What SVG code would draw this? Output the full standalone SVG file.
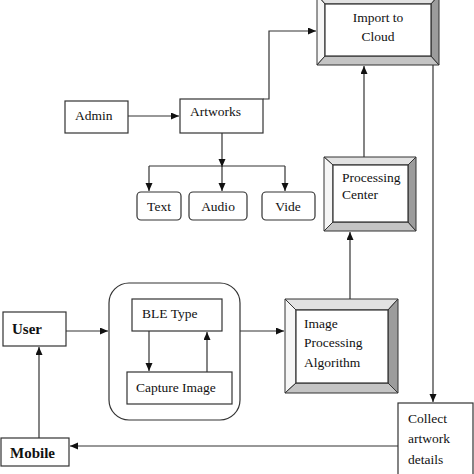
<svg xmlns="http://www.w3.org/2000/svg" width="474" height="474" viewBox="0 0 474 474">
<style>
  .box{fill:#fff;stroke:#333;stroke-width:1.2}
  .t{font-size:13.5px;fill:#111}
  .b{font-size:15px;font-weight:bold;fill:#111}
  .c{fill:none;stroke:#333;stroke-width:1.2}
  .ft{fill:#e2e2e2;stroke:#333;stroke-width:1}
  .fl{fill:#f6f6f6;stroke:#333;stroke-width:1}
  .fb{fill:#c4c4c4;stroke:#333;stroke-width:1}
  .fr{fill:#9c9c9c;stroke:#333;stroke-width:1}
</style>
<defs>
  <marker id="ah" markerUnits="userSpaceOnUse" markerWidth="9" markerHeight="8" refX="8" refY="3.5" orient="auto">
    <path d="M0,0 L8,3.5 L0,7 z" fill="#111"/>
  </marker>
</defs>
<rect width="474" height="474" fill="#fff"/>

<g font-family="'Liberation Serif', 'DejaVu Serif', 'Times New Roman', serif">
<g id="import">
  <polygon class="ft" points="317,-5 439,-5 431,4 325,4"/>
  <polygon class="fl" points="317,-5 325,4 325,56 317,65"/>
  <polygon class="fb" points="317,65 325,56 431,56 439,65"/>
  <polygon class="fr" points="439,-5 439,65 431,56 431,4"/>
  <rect class="box" x="325" y="4" width="106" height="52"/>
  <text class="t" x="378" y="22" text-anchor="middle">Import to</text>
  <text class="t" x="378" y="41" text-anchor="middle">Cloud</text>
</g>

<g id="admin">
  <rect class="box" x="65" y="101" width="63" height="32"/>
  <text class="t" x="75" y="120">Admin</text>
</g>

<g id="artworks">
  <rect class="box" x="180" y="99" width="83" height="34"/>
  <text class="t" x="190" y="116">Artworks</text>
</g>

<g id="text">
  <rect class="box" x="137" y="192" width="44" height="28" rx="4"/>
  <text class="t" x="159" y="211" text-anchor="middle">Text</text>
</g>
<g id="audio">
  <rect class="box" x="189" y="192" width="58" height="28" rx="4"/>
  <text class="t" x="218" y="211" text-anchor="middle">Audio</text>
</g>
<g id="vide">
  <rect class="box" x="262" y="192" width="53" height="28" rx="4"/>
  <text class="t" x="288" y="211" text-anchor="middle">Vide</text>
</g>

<g id="processing-center">
  <polygon class="ft" points="324,157 416,157 408,165 333,165"/>
  <polygon class="fl" points="324,157 333,165 333,222 324,231"/>
  <polygon class="fb" points="324,231 333,222 408,222 416,231"/>
  <polygon class="fr" points="416,157 416,231 408,222 408,165"/>
  <rect class="box" x="333" y="165" width="75" height="57"/>
  <text class="t" x="342" y="182">Processing</text>
  <text class="t" x="342" y="199">Center</text>
</g>

<g id="user">
  <rect class="box" x="3" y="312" width="63" height="34"/>
  <text class="b" x="12" y="334">User</text>
</g>

<g id="ble-group">
  <rect class="box" x="109" y="283" width="131" height="137" rx="20"/>
</g>
<g id="ble-type">
  <rect class="box" x="132" y="299" width="90" height="32"/>
  <text class="t" x="142" y="318">BLE Type</text>
</g>
<g id="capture-image">
  <rect class="box" x="127" y="372" width="105" height="32"/>
  <text class="t" x="136" y="392">Capture Image</text>
</g>

<g id="image-processing">
  <polygon class="ft" points="285,299 398,299 388,310 296,310"/>
  <polygon class="fl" points="285,299 296,310 296,383 285,393"/>
  <polygon class="fb" points="285,393 296,383 388,383 398,393"/>
  <polygon class="fr" points="398,299 398,393 388,383 388,310"/>
  <rect class="box" x="296" y="310" width="92" height="73"/>
  <text class="t" x="304" y="328">Image</text>
  <text class="t" x="304" y="347">Processing</text>
  <text class="t" x="304" y="367">Algorithm</text>
</g>

<g id="collect">
  <rect class="box" x="398" y="403" width="75" height="80"/>
  <text class="t" x="408" y="423">Collect</text>
  <text class="t" x="408" y="443">artwork</text>
  <text class="t" x="408" y="464">details</text>
</g>

<g id="mobile">
  <rect class="box" x="1" y="438" width="68" height="28"/>
  <text class="b" x="10" y="458">Mobile</text>
</g>
</g>

<g id="connectors">
  <path class="c" d="M128,116 H179" marker-end="url(#ah)"/>
  <path class="c" d="M263,99 H269 V31 H316" marker-end="url(#ah)"/>
  <path class="c" d="M222,133 V167" marker-end="url(#ah)"/>
  <path class="c" d="M149,166 H285"/>
  <path class="c" d="M149,166 V191" marker-end="url(#ah)"/>
  <path class="c" d="M222,166 V191" marker-end="url(#ah)"/>
  <path class="c" d="M285,166 V191" marker-end="url(#ah)"/>
  <path class="c" d="M364,157 V66" marker-end="url(#ah)"/>
  <path class="c" d="M350,299 V232" marker-end="url(#ah)"/>
  <path class="c" d="M433,65 V402" marker-end="url(#ah)"/>
  <path class="c" d="M398,446 H70" marker-end="url(#ah)"/>
  <path class="c" d="M39,438 V347" marker-end="url(#ah)"/>
  <path class="c" d="M66,331 H108" marker-end="url(#ah)"/>
  <path class="c" d="M149,331 V371" marker-end="url(#ah)"/>
  <path class="c" d="M207,372 V332" marker-end="url(#ah)"/>
  <path class="c" d="M240,331 H284" marker-end="url(#ah)"/>
</g>
</svg>
